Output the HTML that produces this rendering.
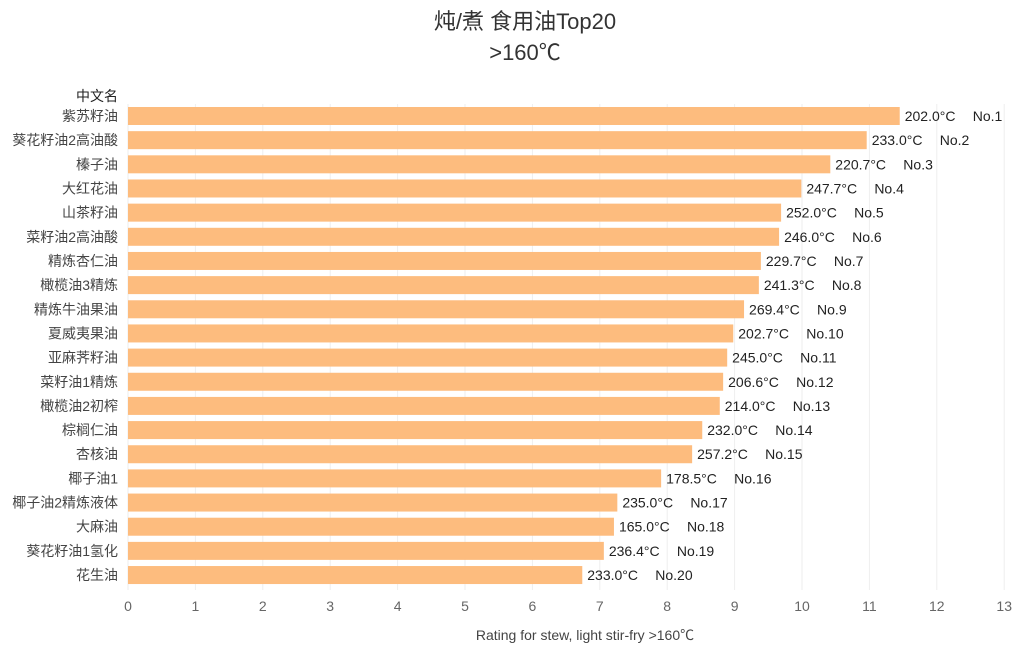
<!DOCTYPE html>
<html><head><meta charset="utf-8"><style>
body{margin:0;background:#fff;font-family:"Liberation Sans","Noto Sans CJK SC",sans-serif;}
svg text{font-family:"Liberation Sans","Noto Sans CJK SC",sans-serif;}
</style></head><body>
<svg id="chart" width="1024" height="654">
<text x="525" y="29" font-size="22" fill="#333" text-anchor="middle">炖/煮 食用油Top20</text>
<text x="525" y="60" font-size="22" fill="#333" text-anchor="middle">&gt;160℃</text>
<text x="118" y="101" font-size="14" fill="#222" text-anchor="end">中文名</text>
<text x="585" y="640" font-size="14" fill="#444" text-anchor="middle">Rating for stew, light stir-fry &gt;160℃</text>
<g id="grid"></g><g id="bars"></g><g id="xt"></g>
</svg>
<script>
const categories=["紫苏籽油","葵花籽油2高油酸","榛子油","大红花油","山茶籽油","菜籽油2高油酸","精炼杏仁油","橄榄油3精炼","精炼牛油果油","夏威夷果油","亚麻荠籽油","菜籽油1精炼","橄榄油2初榨","棕榈仁油","杏核油","椰子油1","椰子油2精炼液体","大麻油","葵花籽油1氢化","花生油"];
const ratings=[11.45,10.96,10.42,9.99,9.69,9.66,9.39,9.36,9.14,8.98,8.89,8.83,8.78,8.52,8.37,7.91,7.26,7.21,7.06,6.74];
const temps=["202.0°C","233.0°C","220.7°C","247.7°C","252.0°C","246.0°C","229.7°C","241.3°C","269.4°C","202.7°C","245.0°C","206.6°C","214.0°C","232.0°C","257.2°C","178.5°C","235.0°C","165.0°C","236.4°C","233.0°C"];
const ranks=["No.1","No.2","No.3","No.4","No.5","No.6","No.7","No.8","No.9","No.10","No.11","No.12","No.13","No.14","No.15","No.16","No.17","No.18","No.19","No.20"];
const xTicks=[0,1,2,3,4,5,6,7,8,9,10,11,12,13];
const NS="http://www.w3.org/2000/svg";
const x=v=>128+v*67.4;
const y=i=>107+i*24.16;
function mk(t,a,p){const e=document.createElementNS(NS,t);for(const k in a)e.setAttribute(k,a[k]);p.appendChild(e);return e;}
const grid=document.getElementById('grid'),bars=document.getElementById('bars'),xt=document.getElementById('xt');
xTicks.forEach(v=>{
 const l=mk('line',{x1:x(v),x2:x(v),y1:104,y2:590,stroke:'#eee','stroke-width':1},grid);
 
 
 const t=mk('text',{x:x(v),y:611,'font-size':14,fill:'#666','text-anchor':'middle'},xt);
 t.textContent=v;
 
 
});
categories.forEach((c,i)=>{
 const lab=mk('text',{x:118,y:y(i)+14,'font-size':14,fill:'#444','text-anchor':'end'},bars);
 lab.textContent=c;
 
 
 const r=mk('rect',{x:x(0),y:y(i),width:x(ratings[i])-x(0),height:18,fill:'#fdbc7e'},bars);
 
 
 const v=mk('text',{x:x(ratings[i])+5,y:y(i)+14,'font-size':14,fill:'#222'},bars);
 v.textContent=temps[i];
 
 
 const n=mk('text',{x:x(ratings[i])+73,y:y(i)+14,'font-size':14,fill:'#222'},bars);
 n.textContent=ranks[i];
 
 
});
</script>
</body></html>
